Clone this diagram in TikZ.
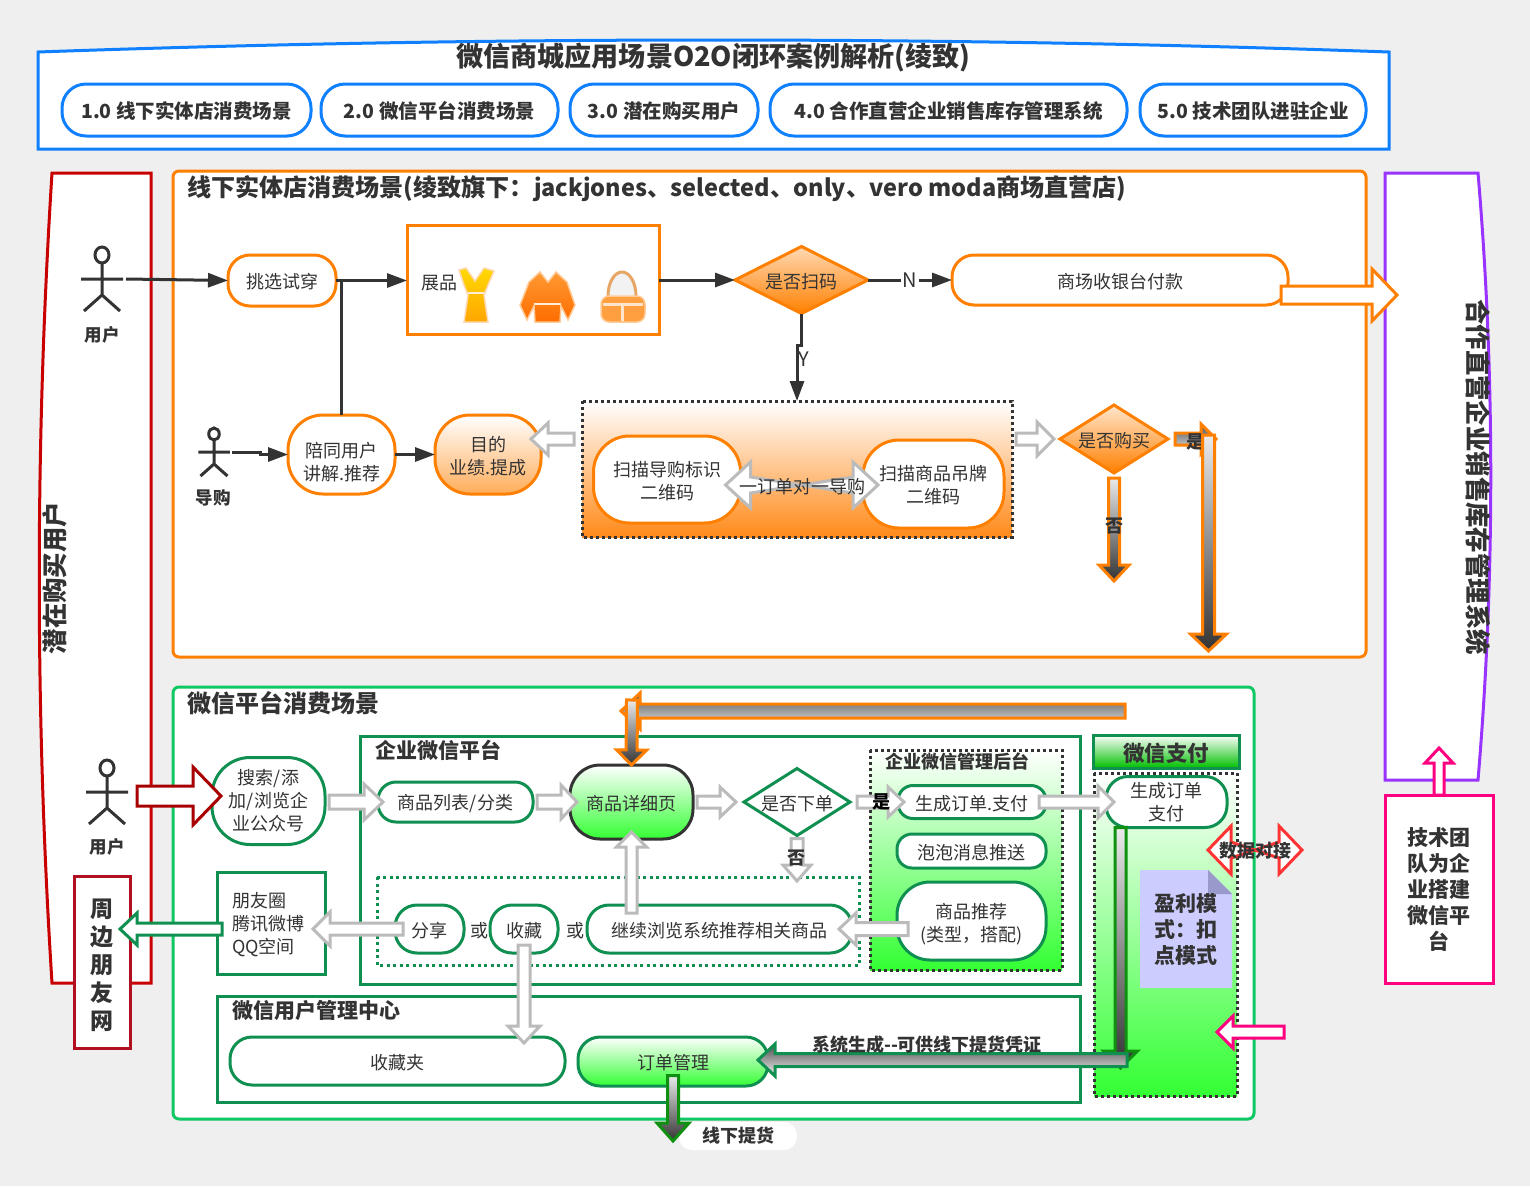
\documentclass[tikz,border=0pt]{standalone}
\usepackage{fontspec}
\setmainfont{Noto Sans CJK SC}
\usetikzlibrary{arrows.meta, calc, shapes.geometric}

\definecolor{pagegray}{HTML}{EFEFEF}
\definecolor{ink}{HTML}{333333}
\definecolor{skyline}{HTML}{0F80FF}
\definecolor{shopline}{HTML}{FF8000}
\definecolor{redline}{HTML}{C80000}
\definecolor{darkred}{HTML}{A80000}
\definecolor{violetline}{HTML}{9933FF}
\definecolor{leafline}{HTML}{0FC864}
\definecolor{mossline}{HTML}{109050}
\definecolor{grassline}{HTML}{109010}
\definecolor{barline}{HTML}{BBBBBB}
\definecolor{pinkline}{HTML}{FF0080}
\definecolor{alarmline}{HTML}{FF3333}
\definecolor{wineline}{HTML}{B01020}
\definecolor{lime}{HTML}{33FF33}
\definecolor{shopfill}{HTML}{FF8A1A}
\definecolor{notefill}{HTML}{CCCCFF}
\definecolor{notefold}{HTML}{9999CC}

\newcommand{\lowrule}{}
\newcommand{\down}[1]{\rule{0pt}{#1pt}}
\tikzset{
  low/.code={\def\lowrule{\rule{0pt}{#1}}},
  flat/.code={\def\lowrule{}},
  txt/.style={font=\fontsize{18}{23}\selectfont, text=ink, align=center, inner sep=0pt, outer sep=0pt, low=1em},
  head/.style={txt, flat, font=\fontsize{#1}{#1}\selectfont\bfseries, anchor=west},
  tag/.style={txt, flat, font=\fontsize{#1}{#1}\selectfont\bfseries},
  size/.style 2 args={minimum width=#1pt, minimum height=#2pt},
  panel/.style={txt, draw=#1, fill=white, line width=3pt},
  pill/.style 2 args={panel=#1, rounded corners=#2pt},
  dotbox/.style={draw=ink, line width=3pt, dash pattern=on 3pt off 3pt, top color=white, bottom color=#1},
  ask/.style={txt, diamond, aspect=1.6, draw=#1, line width=3pt},
  flow/.style={draw=ink, line width=3pt, -{Triangle[length=20pt,width=14pt]}},
  stick/.style={draw=ink, line width=3pt},
  hollow/.style={draw=#1, fill=white, line width=3pt, line join=miter},
  fade/.style={draw=#1, top color=white!92!black, bottom color=ink, line width=3pt, line join=miter},
  slab/.style={draw=#1, top color=black!70, bottom color=black!5, line width=3pt, line join=miter},
  every node/.append style={execute at begin node={\lowrule}},
  stickman/.pic={
    \draw[stick] (0,-24) ellipse (7 and 8);
    \draw[stick] (0,-16) -- (0,16) (-21,0) -- (21,0) (-18,32) -- (0,16) -- (18,32);
    \coordinate (-arm) at (24,0);
  }
}

% from, to, half shaft, half head, head length
\newcommand{\blockarrow}[6][]{
  \coordinate (ba) at (#2);
  \coordinate (bb) at (#3);
  \coordinate (bh) at ($(bb)!#6pt!(ba)$);
  \draw[#1] ($(ba)!#4pt!90:(bb)$) -- ($(bh)!#4pt!90:(bb)$) -- ($(bh)!#5pt!90:(bb)$) -- (bb)
    -- ($(bh)!#5pt!-90:(bb)$) -- ($(bh)!#4pt!-90:(bb)$) -- ($(ba)!#4pt!-90:(bb)$) -- cycle;
}
\newcommand{\twinarrow}[6][]{
  \coordinate (ba) at (#2);
  \coordinate (bb) at (#3);
  \coordinate (bh) at ($(bb)!#6pt!(ba)$);
  \coordinate (bg) at ($(ba)!#6pt!(bb)$);
  \draw[#1] (ba) -- ($(bg)!#5pt!-90:(bb)$) -- ($(bg)!#4pt!-90:(bb)$) -- ($(bh)!#4pt!90:(bb)$)
    -- ($(bh)!#5pt!90:(bb)$) -- (bb) -- ($(bh)!#5pt!-90:(bb)$) -- ($(bh)!#4pt!-90:(bb)$)
    -- ($(bg)!#4pt!90:(bb)$) -- ($(bg)!#5pt!90:(bb)$) -- cycle;
}

\begin{document}
\begin{tikzpicture}[x=1pt, y=-1pt]
  \useasboundingbox (0,0) rectangle (1530,1186);
  \fill[pagegray] (0,0) rectangle (1530,1186);

% define the outer frames
  \draw[draw=skyline, fill=white, line width=3pt] (38,52) .. controls (488,36) and (939,36) .. (1389,52)
    -- (1389,149) -- (38,149) -- cycle;
  \draw[draw=redline, fill=white, line width=3pt] (52,173) -- (151,173) -- (151,983) -- (52,983)
    .. controls (35,713) and (35,443) .. (52,173) -- cycle;
  \draw[draw=violetline, fill=white, line width=3pt] (1385,173) -- (1478,173)
    .. controls (1495,374) and (1495,578) .. (1478,780) -- (1385,780) -- cycle;
  \node[panel=shopline, rounded corners=6pt, size={1193}{486}] (shop) at (769.5,414) {};
  \node[panel=leafline, rounded corners=6pt, size={1081}{432}] (wechat) at (713.5,903) {};

% define the title row
  \node[tag=27.1] (title) at (713.5,58) {微信商城应用场景O2O闭环案例解析(绫致)};
  \node[pill={skyline}{24}, size={249}{52}, tag=19.5, low=1em] (menua) at (186.5,110) {1.0 线下实体店消费场景};
  \node[pill={skyline}{24}, size={237}{52}, tag=19.5, low=1em] (menub) at (439.5,110) {2.0 微信平台消费场景};
  \node[pill={skyline}{24}, size={188}{52}, tag=19.5, low=1em] (menuc) at (664,110) {3.0 潜在购买用户};
  \node[pill={skyline}{24}, size={357}{52}, tag=19.5, low=1em] (menud) at (948.5,110) {4.0 合作直营企业销售库存管理系统};
  \node[pill={skyline}{24}, size={226}{52}, tag=19.5, low=1em] (menue) at (1253,110) {5.0 技术团队进驻企业};

% define the side captions
  \node[tag=25.4, rotate=90] (buyers) at (55,578) {潜在购买用户};
  \node[tag=25.4, rotate=-90] (partner) at (1478,477) {合作直营企业销售库存管理系统};
  \node[head=24.1] (shoptitle) at (187,188.5) {线下实体店消费场景(绫致旗下：{\fontsize{23.5}{24}\selectfont jackjones、selected、only、vero moda}商场直营店)};
  \node[head=24] (wechattitle) at (187,703) {微信平台消费场景};

% define the shop nodes
  \pic (u1) at (102,279) {stickman};
  \node[tag=17.5] (u1name) at (102,335) {用户};
  \pic[scale=.75] (g1) at (214,452) {stickman};
  \node[tag=17.5] (g1name) at (213,498) {导购};

  \node[pill={shopline}{22}, size={108}{51}] (try) at (282,280.5) {挑选试穿};
  \node[panel=shopline, size={252}{109}] (goods0) at (533,279.5) {};
  \node[txt] (goods0name) at (439,281) {展品};
  \node[ask=shopline, size={133}{67}, top color=white!70!shopline, bottom color=shopline] (scan) at (801.5,280) {是否扫码};
  \node[pill={shopline}{22}, size={336}{50}] (cash) at (1120,280) {商场收银台付款};
  \node[pill={shopline}{35}, size={107}{79}] (company) at (341.5,454.5) {\down{30}陪同用户\\讲解.推荐};
  \node[pill={shopline}{35}, size={106}{79}, top color=white, bottom color=white!35!shopline] (goal) at (488,454.5) {\down{18}目的\\业绩.提成};
  \node[txt, minimum width=430pt, minimum height=136pt] (qrbox) at (797,469) {};
  \draw[dotbox=shopfill] (582,401) rectangle (1012,537);
  \node[pill={shopline}{36}, size={147}{87}] (guideqr) at (667,479.5) {\down{18}扫描导购标识\\二维码};
  \node[pill={shopline}{36}, size={141}{88}] (goodsqr) at (933.5,484) {\down{18}扫描商品吊牌\\二维码};
  \node[ask=shopline, size={108}{68}, top color=white!80!shopline, bottom color=shopline] (buy) at (1114,439) {是否购买};

% define the goods pictures
  \draw[draw=white!70!orange, line width=1.5pt, top color=yellow!70!orange, bottom color=orange!70!yellow]
    (459,270) -- (466,268) -- (475,281) -- (484,268) -- (494,271) -- (488,285) -- (484,295) -- (488,322)
    -- (464,322) -- (468,295) -- (464,285) -- cycle;
  \draw[white!85!orange, line width=2pt] (468,293) -- (484,293);
  \draw[draw=white!60!orange, line width=1.5pt, top color=orange!80, bottom color=orange!85!red]
    (540,272) -- (548,282) -- (556,272) -- (567,282) -- (575,305) -- (568,320) -- (561,306) -- (560,322)
    -- (535,322) -- (534,306) -- (527,320) -- (520,305) -- (529,282) -- cycle;
  \draw[white!85!orange, line width=2pt] (534,304) -- (561,304);
  \draw[draw=orange!45!brown!70, line width=3pt, fill=white!90!gray] (622,296) ellipse (14 and 24);
  \draw[draw=white!60!orange, line width=1.5pt, fill=orange!75, rounded corners=8pt] (601,296) rectangle (645,322);
  \draw[white!80!orange, line width=3pt] (603,304) -- (643,304) (622,304) -- (622,321);

% define the shop links
  \draw[flow] (u1-arm) -- (try.west);
  \draw[flow] (try.east) -- (try.east -| goods0.west);
  \draw[stick] (company.north) -- (company.north |- try.east);
  \draw[flow] (goods0.east |- scan.west) -- (scan.west);
  \draw[flow] (scan.east) -- node[txt, flat, font=\fontsize{20}{20}\selectfont, fill=white, inner xsep=2pt] (nolabel) {N} (cash.west);
  \draw[flow] (scan.south) -- ++(0,32) -| (qrbox.north);
  \node[txt, flat, font=\fontsize{20}{20}\selectfont] (yeslabel) at (804,359) {Y};
  \draw[flow] (g1-arm) -- ($(g1-arm)+(28,0)$) |- (company.west);
  \draw[flow] (company.east) -- (goal.west);

  \blockarrow[hollow=barline]{$(qrbox.west)+(-8,-30)$}{$(goal.east)+(-10,-15.5)$}{6}{16}{17}
  \twinarrow[hollow=barline]{$(guideqr.east)+(-15,5.5)$}{$(goodsqr.west)+(15,1)$}{8}{23}{25}
  \blockarrow[hollow=barline]{$(qrbox.east)+(4,-30)$}{$(buy.west)+(-6,0)$}{6}{17}{17}
  \node[txt] (onetoone) at (802,485) {一订单对一导购};

  \coordinate (shopno) at (1114,581);
  \coordinate (yesturn) at (1208.5,435);
  \coordinate (yestip) at (1216,439);
  \coordinate (yesend) at (1208.5,651);
  \blockarrow[fade=shopline]{$(buy.south)+(0,5)$}{shopno}{5.5}{15}{16}
  \blockarrow[slab=shopline]{$(buy.east)+(7,0)$}{yestip}{6}{15}{15}
  \node[tag=18] (yesmark) at (1195,442) {是};
  \blockarrow[fade=shopline]{yesturn}{yesend}{6}{18}{17}
  \node[tag=18] (nomark) at (1114,526) {否};
  \blockarrow[hollow=shopline]{$(cash.east)+(-7,15)$}{$(cash.east)+(109,15)$}{9}{26}{25}

% define the wechat nodes
  \pic (u3) at (107,792) {stickman};
  \node[tag=17.5] (u3name) at (107,847) {用户};
  \node[panel=mossline, size={720}{248}] (platform) at (720,860) {};
  \node[head=21] (platformname) at (375,750) {企业微信平台};
  \node[panel=mossline, size={863}{106}] (center) at (648.5,1049) {};
  \node[head=21] (centername) at (232,1010) {微信用户管理中心};

  \node[pill={mossline}{38}, size={113}{87}, flat] (search) at (268.5,801) {搜索/添\\加/浏览企\\业公众号};
  \node[pill={mossline}{18}, size={155}{40}] (goods) at (455.5,802) {商品列表/分类};
  \node[pill={ink}{30}, size={123}{74}, top color=white, bottom color=lime] (detail) at (631.5,802) {商品详细页};
  \node[ask=mossline, size={106}{67}, fill=white] (order) at (797,802) {是否下单};

  \draw[mossline, line width=3pt, dash pattern=on 3pt off 3.5pt] (377,877) rectangle (859,965);
  \node[txt, minimum width=192pt, minimum height=220pt] (backend) at (966,860) {};
  \draw[dotbox=lime] (870,750) rectangle (1062,970);
  \node[tag=18] (backendname) at (957,761) {企业微信管理后台};
  \node[pill={mossline}{15}, size={148}{33}] (payorder) at (972,802) {生成订单.支付};
  \node[pill={mossline}{15}, size={149}{34}] (bubble) at (971.5,851) {泡泡消息推送};
  \node[pill={mossline}{33}, size={149}{78}] (recommend) at (971.5,921) {\down{21}商品推荐\\(类型，搭配)};

  \node[pill={mossline}{22}, size={69}{48}] (share) at (429.5,929) {分享};
  \node[txt] (ora) at (479,929) {或};
  \node[pill={mossline}{22}, size={68}{48}] (fav) at (524,929) {收藏};
  \node[txt] (orb) at (575,929) {或};
  \node[pill={mossline}{22}, size={265}{48}] (browse) at (719.5,929) {继续浏览系统推荐相关商品};
  \node[panel=mossline, size={108}{102}] (friends) at (271,923) {};
  \node[txt, align=left, anchor=west] (friendsname) at (232,923) {\down{18}朋友圈\\腾讯微博\\QQ空间};
  \node[panel=wineline, size={56}{172}, flat, font=\fontsize{23}{28}\selectfont\bfseries] (peers) at (102,962) {\down{25}周\\边\\朋\\友\\网};

  \node[pill={mossline}{22}, size={335}{48}] (favbox) at (397.5,1061) {收藏夹};
  \node[pill={mossline}{22}, size={190}{49}, top color=white, bottom color=lime] (ordermgr) at (673,1061.5) {订单管理};

  \node[panel=mossline, size={146}{33}, top color=white, bottom color=green!75!black, tag=21.5, low=1em] (paytitle) at (1166,751.5) {微信支付};
  \node[txt, minimum width=143pt, minimum height=323pt] (paybox) at (1165.5,934.5) {};
  \draw[dotbox=lime] (1094,773) rectangle (1237,1096);
  \node[pill={mossline}{22}, size={121}{51}, flat] (paypill) at (1166.5,802) {生成订单\\支付};
  \fill[notefill] (1140,870) -- (1208,870) -- (1232,894) -- (1232,988) -- (1140,988) -- cycle;
  \fill[notefold] (1208,870) -- (1232,894) -- (1208,894) -- cycle;
  \node[txt, flat, font=\fontsize{21}{26}\selectfont\bfseries] (profit) at (1186,929.5) {盈利模\\式：扣\\点模式};

  \node[panel=pinkline, size={108}{188}, flat, font=\fontsize{21}{26}\selectfont\bfseries] (tech) at (1439,889) {技术团\\队为企\\业搭建\\微信平\\台};
  \node[txt, flat, fill=white, rounded corners=13pt, size={118}{28}, font=\fontsize{18}{18}\selectfont\bfseries] (pickup) at (738,1136) {线下提货};

% define the wechat links
  \coordinate (backa) at (1125,711);
  \coordinate (backb) at (621,711);
  \coordinate (backc) at (632,700);
  \coordinate (orderno) at (797,881);
  \coordinate (downa) at (1120.5,1068);
  \coordinate (backd) at (1127,1060);
  \coordinate (downb) at (673,1141);
  \coordinate (linka) at (1208,850);
  \coordinate (linkb) at (1302,850);
  \coordinate (pinka) at (1284,1032);
  \coordinate (pinkb) at (1217,1032);

  \blockarrow[slab=shopline]{backa}{backb}{7}{18}{19}
  \blockarrow[fade=shopline]{backc}{detail.north}{5.5}{15}{15}
  \blockarrow[hollow=darkred]{$(u3-arm)+(6,4)$}{$(search.west)+(9,-5)$}{10}{29}{28}
  \blockarrow[hollow=barline]{$(search.east)+(4,1)$}{$(goods.west)+(5,0)$}{7}{18}{19}
  \blockarrow[hollow=barline]{$(goods.east)+(4,0)$}{$(detail.west)+(7,0)$}{7}{17}{16}
  \blockarrow[hollow=barline]{$(detail.east)+(4,0)$}{$(order.west)+(-8,0)$}{6}{15}{16}
  \blockarrow[hollow=barline]{$(order.east)+(7,0)$}{$(payorder.west)+(6,0)$}{6}{15}{16}
  \blockarrow[hollow=barline]{$(order.south)+(0,3)$}{orderno}{6}{14}{16}
  \blockarrow[hollow=barline]{$(payorder.east)+(-7,0)$}{$(paypill.west)+(8,0)$}{6}{16}{16}
  \blockarrow[hollow=barline]{$(detail.south |- browse.north)+(0,8)$}{$(detail.south)+(0,-7)$}{5.5}{15}{15}
  \blockarrow[hollow=barline]{$(recommend.west)+(11,8)$}{$(browse.east)+(-13,0)$}{6.5}{16}{17}
  \blockarrow[hollow=barline]{$(share.west)+(8,0)$}{$(friends.east)+(-12,6)$}{6}{17}{17}
  \blockarrow[hollow=mossline]{$(friends.west)+(5,6)$}{$(peers.east)+(-10,-33)$}{6}{16}{17}
  \blockarrow[hollow=barline]{$(fav.south)+(0,-8)$}{$(fav.south |- favbox.north)+(0,6)$}{6}{16}{17}
  \blockarrow[fade=grassline]{$(paypill.south)+(-46,0)$}{downa}{5.5}{17}{17}
  \blockarrow[slab=mossline]{backd}{$(ordermgr.east)+(-10,-1.5)$}{6.5}{16}{17}
  \blockarrow[fade=grassline]{$(ordermgr.center)+(0,14)$}{downb}{5.5}{16}{18}
  \twinarrow[hollow=alarmline]{linka}{linkb}{8}{24}{23}
  \blockarrow[hollow=pinkline]{pinka}{pinkb}{6}{16}{16}
  \blockarrow[hollow=pinkline]{tech.north}{$(tech.north)+(0,-47)$}{5}{14}{15}

% define the labels on the links
  \node[tag=18, text=black] (yesorder) at (881,802) {是};
  \node[tag=18] (noorder) at (796,858) {否};
  \node[tag=18] (dataname) at (1255,851) {数据对接};
  \node[tag=18] (makename) at (927,1045) {系统生成{-}{-}可供线下提货凭证};

\end{tikzpicture}
\end{document}
